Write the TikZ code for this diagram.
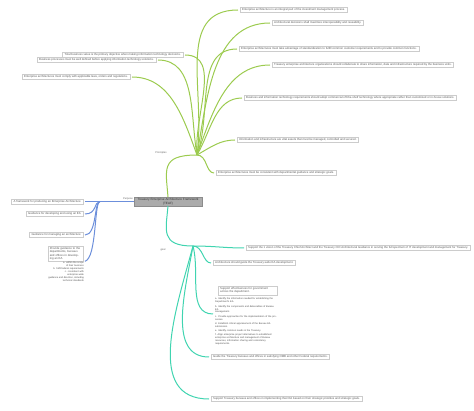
\documentclass[tikz,border=0pt]{standalone}
\usepackage{fontspec}
\setmainfont{Liberation Sans}
\definecolor{leafgreen}{HTML}{9CCB4F}
\definecolor{purposeblue}{HTML}{6C8FDB}
\definecolor{goalteal}{HTML}{40D4B0}

\begin{document}
\begin{tikzpicture}[x=1pt,y=1pt,
  leaf/.style={draw=black!20,fill=white,text=black!65,font=\fontsize{2.85}{3.4}\selectfont,inner xsep=2pt,inner ysep=1.3pt,anchor=west},
  leftleaf/.style={leaf,anchor=east},
  note/.style={text=black!70,font=\fontsize{2.4}{2.9}\selectfont,inner sep=0pt},
  branchlabel/.style={text=black!60,font=\fontsize{2.6}{3}\selectfont,inner sep=0.5pt},
  greenline/.style={draw=leafgreen,line width=1pt,shorten >=2pt},
  blueline/.style={draw=purposeblue,line width=1pt,shorten >=2pt},
  tealline/.style={draw=goalteal,line width=1pt,shorten >=2pt}]
  \useasboundingbox (0,0) rectangle (474,410);

%% centre of the map
  \node[fill=black!33,draw=black!45,text=black!80,font=\fontsize{3.1}{3.7}\selectfont,align=center,minimum width=66pt,inner ysep=1pt] (teaf) at (168,208.5) {Treasury Enterprise Architecture Framework\\(TEAF)};

%% Principles
  \coordinate (ghub) at (197,255);
  \node[branchlabel] (principles) at (161,257.5) {Principles};
  \node[leaf] (g1) at (240,400) {Enterprise architecture is an integral part of the investment management process.};
  \node[leaf] (g2) at (272,387) {Architectural decisions shall maximize interoperability and reusability.};
  \node[leaf] (g3) at (239,361) {Enterprise architectures must take advantage of standardization to fulfill common customer requirements and to provide common functions.};
  \node[leaf] (g4) at (272,345) {Treasury enterprise architecture organizations should collaborate to share information, data and infrastructure required by the business units.};
  \node[leaf] (g5) at (244,312) {Business and information technology requirements should adopt commercial off-the-shelf technology where appropriate rather than customized or in-house solutions.};
  \node[leaf] (g6) at (237,270) {Information and infrastructure are vital assets that must be managed, controlled and secured.};
  \node[leaf] (g7) at (216,237) {Enterprise architectures must be consistent with departmental guidance and strategic goals.};
  \node[leftleaf] (l1) at (183,355) {Total business value is the primary objective when making information technology decisions.};
  \node[leftleaf] (l2) at (156,350) {Business processes must be well defined before applying information technology solutions.};
  \node[leftleaf] (l3) at (130,333) {Enterprise architectures must comply with applicable laws, orders and regulations.};

  \draw[greenline,shorten >=0pt] (teaf.north) .. controls (166,240) and (160,255) .. (ghub);
  \draw[greenline] (ghub) to[out=82,in=180,looseness=1.1] (g1.west);
  \draw[greenline] (ghub) to[out=80,in=180] (g2.west);
  \draw[greenline] (ghub) to[out=70,in=180] (g3.west);
  \draw[greenline] (ghub) to[out=70,in=180] (g4.west);
  \draw[greenline] (ghub) to[out=60,in=180] (g5.west);
  \draw[greenline] (ghub) to[out=30,in=180] (g6.west);
  \draw[greenline] (ghub) to[out=0,in=180] (g7.west);
  \draw[greenline] (ghub) to[out=95,in=0] (l1.east);
  \draw[greenline] (ghub) to[out=100,in=0] (l2.east);
  \draw[greenline] (ghub) to[out=110,in=0] (l3.east);

%% Purpose
  \coordinate (bhub) at (100,208.5);
  \node[branchlabel] (purpose) at (128,211.5) {Purpose};
  \node[leftleaf] (b1) at (83,208.5) {A framework for producing an Enterprise Architecture};
  \node[leftleaf] (b2) at (83,196) {Guidance for developing and using an EA};
  \node[leftleaf] (b3) at (83,175) {Guidance for managing an architecture};
  \node[leftleaf,anchor=north east,text width=31pt,align=left] (b4) at (83,164) {Provide guidance to the departments, bureaus and offices in developing an EA};
  \node[note,anchor=north east,text width=36pt,align=right] (b4notes) at (84,148) {a. within the scope of their business\\b. fulfil federal requirements\\c. consistent with enterprise-wide\\guidance and direction, including\\technical standards};

  \draw[blueline,shorten >=0pt] (teaf.west) -- (bhub);
  \draw[blueline] (bhub) -- (b1.east);
  \draw[blueline] (bhub) .. controls (94,208.5) and (97,196) .. (b2.east);
  \draw[blueline] (bhub) .. controls (94,208.5) and (97,175) .. (b3.east);
  \draw[blueline] (bhub) .. controls (94,208.5) and (97,152) .. (b4.south east);

%% goal
  \coordinate (thub) at (193,164);
  \node[branchlabel] (goal) at (163,160.5) {goal};
  \node[leaf] (t1) at (246,162) {Support the 1 vision of the Treasury Chief Architect and the Treasury CIO Architectural Guidance in serving the full spectrum of IT development and management for Treasury.};
  \node[leaf] (t2) at (213,147) {Architecture should guide the Treasury-wide EA development.};
  \node[leaf,anchor=north west,text width=55pt,align=left] (t3) at (218,124) {Support effectiveness for government across the department.};
  \node[note,anchor=north west,text width=62pt,align=left] (t3list) at (215,112) {a. Identify the information needed for establishing the\\Department's EA.\\[1.4pt]
b. Identify the components and deliverables of Bureau EA\\management.\\[1.4pt]
c. Provide approaches for the implementation of the processes.\\[1.4pt]
d. Establish critical appraisement of the Bureau EA\\submission.\\[1.4pt]
e. Identify common needs in the Treasury.\\[1.4pt]
f. Align enterprise project alternatives to established\\enterprise architecture and management of Bureau\\resources, information sharing and consistency\\requirements.};
  \coordinate (t3end) at (215,96);
  \node[leaf] (t4) at (211,53) {Guide the Treasury bureaus and offices in satisfying OMB and other Federal requirements.};
  \node[leaf] (t5) at (211,11) {Support Treasury bureaus and offices in implementing their EA based on their strategic priorities and strategic goals.};

  \draw[tealline,shorten >=0pt] (teaf.south) .. controls (166,180) and (160,164) .. (thub);
  \draw[tealline] (thub) to[out=0,in=180] (t1.west);
  \draw[tealline] (thub) to[out=0,in=180] (t2.west);
  \draw[tealline] (thub) to[out=-75,in=180] (t3end);
  \draw[tealline] (thub) to[out=-100,in=180] (t4.west);
  \draw[tealline] (thub) to[out=-105,in=180,looseness=1.1] (t5.west);
\end{tikzpicture}
\end{document}
